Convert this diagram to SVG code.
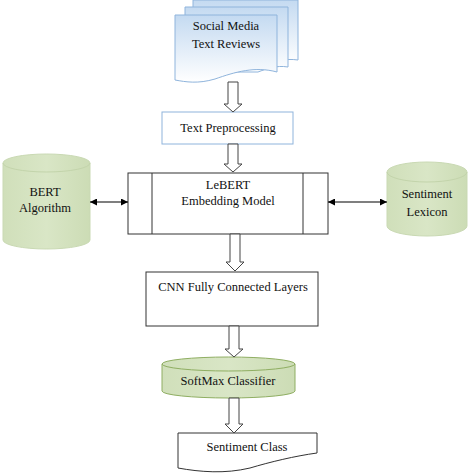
<svg xmlns="http://www.w3.org/2000/svg" width="474" height="474" viewBox="0 0 474 474">
<defs>
<linearGradient id="docg" x1="0" y1="0" x2="0" y2="1">
<stop offset="0" stop-color="#c4daf1"/>
<stop offset="1" stop-color="#ffffff"/>
</linearGradient>
<linearGradient id="cylg" x1="0" y1="0" x2="1" y2="0">
<stop offset="0" stop-color="#d0dfba"/>
<stop offset="0.5" stop-color="#d9e6c6"/>
<stop offset="1" stop-color="#ccdcb5"/>
</linearGradient>
<marker id="ah" viewBox="0 0 10 10" refX="10" refY="5" markerWidth="7" markerHeight="7" orient="auto-start-reverse" markerUnits="userSpaceOnUse">
<path d="M0,0 L10,5 L0,10 Z" fill="#000"/>
</marker>
</defs>
<style>
text{font-family:"Times New Roman","Liberation Serif","DejaVu Serif",serif;font-size:12.5px;fill:#111;text-anchor:middle}
.doc{fill:url(#docg);stroke:#8fb4dc;stroke-width:1}
.box{fill:#fff;stroke:#333;stroke-width:1}
.cyl{fill:url(#cylg);stroke:#c9d9b3;stroke-width:1}
.harrow{fill:#fff;stroke:#444;stroke-width:1}
.conn{stroke:#000;stroke-width:1.2;fill:none}
</style>
<g id="social-media">
<path class="doc" d="M193,0 H298 V60 C285,58 275,62 270,64 L193,64 Z"/>
<path class="doc" d="M185,7 H288 V67 C276,65 266,69 258,72 L185,72 Z"/>
<path class="doc" d="M175,15 H277 V72 C255,66 235,72 215,79 C198,84 186,82 175,80 Z"/>
<text x="226" y="30">Social Media</text>
<text x="226" y="48">Text Reviews</text>
</g>
<g id="text-preprocessing">
<rect x="162" y="112" width="131" height="32" fill="#fff" stroke="#8fb4dc"/>
<text x="228" y="132">Text Preprocessing</text>
</g>
<g id="lebert">
<rect class="box" x="128" y="173" width="200" height="61"/>
<line class="box" x1="152" y1="173" x2="152" y2="234"/>
<line class="box" x1="303" y1="173" x2="303" y2="234"/>
<text x="228" y="189">LeBERT</text>
<text x="228" y="205">Embedding Model</text>
</g>
<g id="bert">
<path class="cyl" d="M3,163 A43.5,9 0 0 1 90,163 V240 A43.5,9 0 0 1 3,240 Z"/>
<path d="M3,163 A43.5,9 0 0 0 90,163" fill="none" stroke="#c3d4ab"/>
<text x="45" y="196">BERT</text>
<text x="45" y="212">Algorithm</text>
</g>
<g id="lexicon">
<path class="cyl" d="M387,172 A40,10 0 0 1 467,172 V226 A40,10 0 0 1 387,226 Z"/>
<path d="M387,172 A40,10 0 0 0 467,172" fill="none" stroke="#c3d4ab"/>
<text x="427" y="198">Sentiment</text>
<text x="427" y="216">Lexicon</text>
</g>
<g id="cnn">
<rect class="box" x="146" y="272" width="172" height="54"/>
<text x="233" y="291">CNN Fully Connected Layers</text>
</g>
<g id="softmax">
<path d="M162,364 A66.5,7 0 0 1 295,364 V391 A66.5,7 0 0 1 162,391 Z" fill="url(#cylg)" stroke="#8fae62"/>
<path d="M162,364 A66.5,7 0 0 0 295,364" fill="none" stroke="#8fae62"/>
<text x="228" y="385">SoftMax Classifier</text>
</g>
<g id="sentiment-class">
<path d="M178,433 H317 V453 C295,456 270,462 250,468 C225,474 200,472 178,468 Z" fill="#fff" stroke="#333"/>
<text x="247" y="451">Sentiment Class</text>
</g>
<g id="connectors">
<path class="harrow" d="M228,82 H238 V104 H242 L233,112 L224,104 H228 Z"/>
<path class="harrow" d="M228,144 H238 V164 H242 L233,172 L224,164 H228 Z"/>
<path class="harrow" d="M230,234 H240 V262 H244 L235,271 L226,262 H230 Z"/>
<path class="harrow" d="M229,326 H239 V349 H243 L234,357 L225,349 H229 Z"/>
<path class="harrow" d="M229,398 H239 V424 H243 L234,433 L225,424 H229 Z"/>
<line class="conn" x1="90" y1="202" x2="128" y2="202" marker-start="url(#ah)" marker-end="url(#ah)"/>
<line class="conn" x1="328" y1="202" x2="387" y2="202" marker-start="url(#ah)" marker-end="url(#ah)"/>
</g>
</svg>
